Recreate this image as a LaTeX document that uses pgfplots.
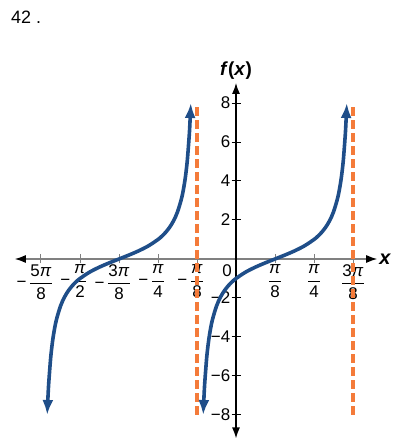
\documentclass[border=0pt]{standalone}
\usepackage{amsmath}
\usepackage{pgfplots}
\pgfplotsset{compat=1.18}
\usepackage{fontspec}
\setmainfont{Liberation Sans}
\usetikzlibrary{arrows.meta}

\definecolor{curve}{HTML}{1F4E89}
\definecolor{asym}{HTML}{F47B3A}
\newcommand{\lbl}{\fontsize{17}{20}\selectfont}
\newcommand{\fr}[2]{$\genfrac{}{}{0.8pt}{0}{\text{#1}}{\text{#2}}$}
\newcommand{\nfr}[2]{\llap{−\,}\fr{#1}{#2}}

% x is in units of pi/8, f(x) = tan(2x - pi/4)
\pgfplotstableread{
u f
-0.8416 -8
-0.82 -7.026
-0.8 -6.314
-0.75 -5.027
-0.7 -4.165
-0.65 -3.545
-0.6 -3.078
-0.5 -2.414
-0.4 -1.963
-0.3 -1.632
-0.2 -1.376
-0.1 -1.171
0 -1
0.25 -0.668
0.5 -0.414
0.75 -0.199
1 0
1.25 0.199
1.5 0.414
1.75 0.668
2 1
2.1 1.171
2.2 1.376
2.3 1.632
2.4 1.963
2.5 2.414
2.6 3.078
2.65 3.545
2.7 4.165
2.75 5.027
2.8 6.314
2.82 7.026
2.8416 8
}\rightbranch
\pgfplotstableread{
u f
-4.8416 -8
-4.82 -7.026
-4.8 -6.314
-4.75 -5.027
-4.7 -4.165
-4.65 -3.545
-4.6 -3.078
-4.5 -2.414
-4.4 -1.963
-4.3 -1.632
-4.2 -1.376
-4.1 -1.171
-4 -1
-3.75 -0.668
-3.5 -0.414
-3.25 -0.199
-3 0
-2.75 0.199
-2.5 0.414
-2.25 0.668
-2 1
-1.9 1.171
-1.8 1.376
-1.7 1.632
-1.6 1.963
-1.5 2.414
-1.4 3.078
-1.35 3.545
-1.3 4.165
-1.25 5.027
-1.2 6.314
-1.18 7.026
-1.1584 8
}\leftbranch

\begin{document}
\begin{tikzpicture}
\useasboundingbox (0,0) rectangle (404bp,448bp);
\node[anchor=west, font=\fontsize{18}{21}\selectfont, inner sep=0pt] at (11bp,431bp) {42 .};
\begin{axis}[
  x=39bp, y=19.5bp,
  anchor=origin, at={(236bp,189bp)},
  xmin=-5.67, xmax=3.62, ymin=-9.2, ymax=9.03,
  axis lines=middle,
  clip=false,
  x axis line style={draw=gray, line width=1.2bp,
    {Latex[black,length=11bp,width=8bp]}-{Latex[black,length=11bp,width=8bp]}},
  y axis line style={draw=black, line width=1.3bp,
    {Latex[length=11bp,width=8bp]}-{Latex[length=11bp,width=8bp]}},
  tick align=center,
  major tick length=9bp,
  x tick style={draw=gray, line width=1bp},
  y tick style={draw=black, line width=1bp},
  xtick={-5,-4,-3,-2,-1,1,2,3},
  xticklabels={{\nfr{5\textit{π}}{8}},{\nfr{\textit{π}}{2}},{\nfr{3\textit{π}}{8}},
    {\nfr{\textit{π}}{4}},{\nfr{\textit{π}}{8}},{\fr{\textit{π}}{8}},
    {\fr{\textit{π}}{4}},{\fr{3\textit{π}}{8}}},
  ytick={-8,-6,-4,-2,2,4,6,8},
  yticklabels={−8,−6,−4,−2,2,4,6,8},
  xticklabel style={font=\lbl, anchor=north, inner sep=1bp},
  yticklabel style={font=\lbl, anchor=east, inner sep=1bp},
  xlabel={\textbf{\textit{x}}},
  ylabel={\textbf{\textit{f}(\textit{x})}},
  every axis x label/.style={at={(axis cs:3.62,0)}, anchor=west,
    font=\fontsize{20}{24}\selectfont, inner sep=2bp},
  every axis y label/.style={at={(axis cs:0,9.03)}, anchor=south,
    font=\fontsize{19}{23}\selectfont, inner sep=3bp},
]
\addplot[asym, line width=3.6bp, dash pattern=on 8.5bp off 4.5bp]
  coordinates {(-1,-8) (-1,8)};
\addplot[asym, line width=3.6bp, dash pattern=on 8.5bp off 4.5bp]
  coordinates {(3,-8) (3,8)};
\addplot[curve, line width=3.6bp, smooth,
  {Latex[length=15bp,width=11bp]}-{Latex[length=15bp,width=11bp]}]
  table[x=u, y=f] {\leftbranch};
\addplot[curve, line width=3.6bp, smooth,
  {Latex[length=15bp,width=11bp]}-{Latex[length=15bp,width=11bp]}]
  table[x=u, y=f] {\rightbranch};
\node[font=\lbl, anchor=north east, inner sep=0pt] at (axis cs:0,0)
  [xshift=-4bp, yshift=-5bp] {0};
\end{axis}
\end{tikzpicture}
\end{document}
